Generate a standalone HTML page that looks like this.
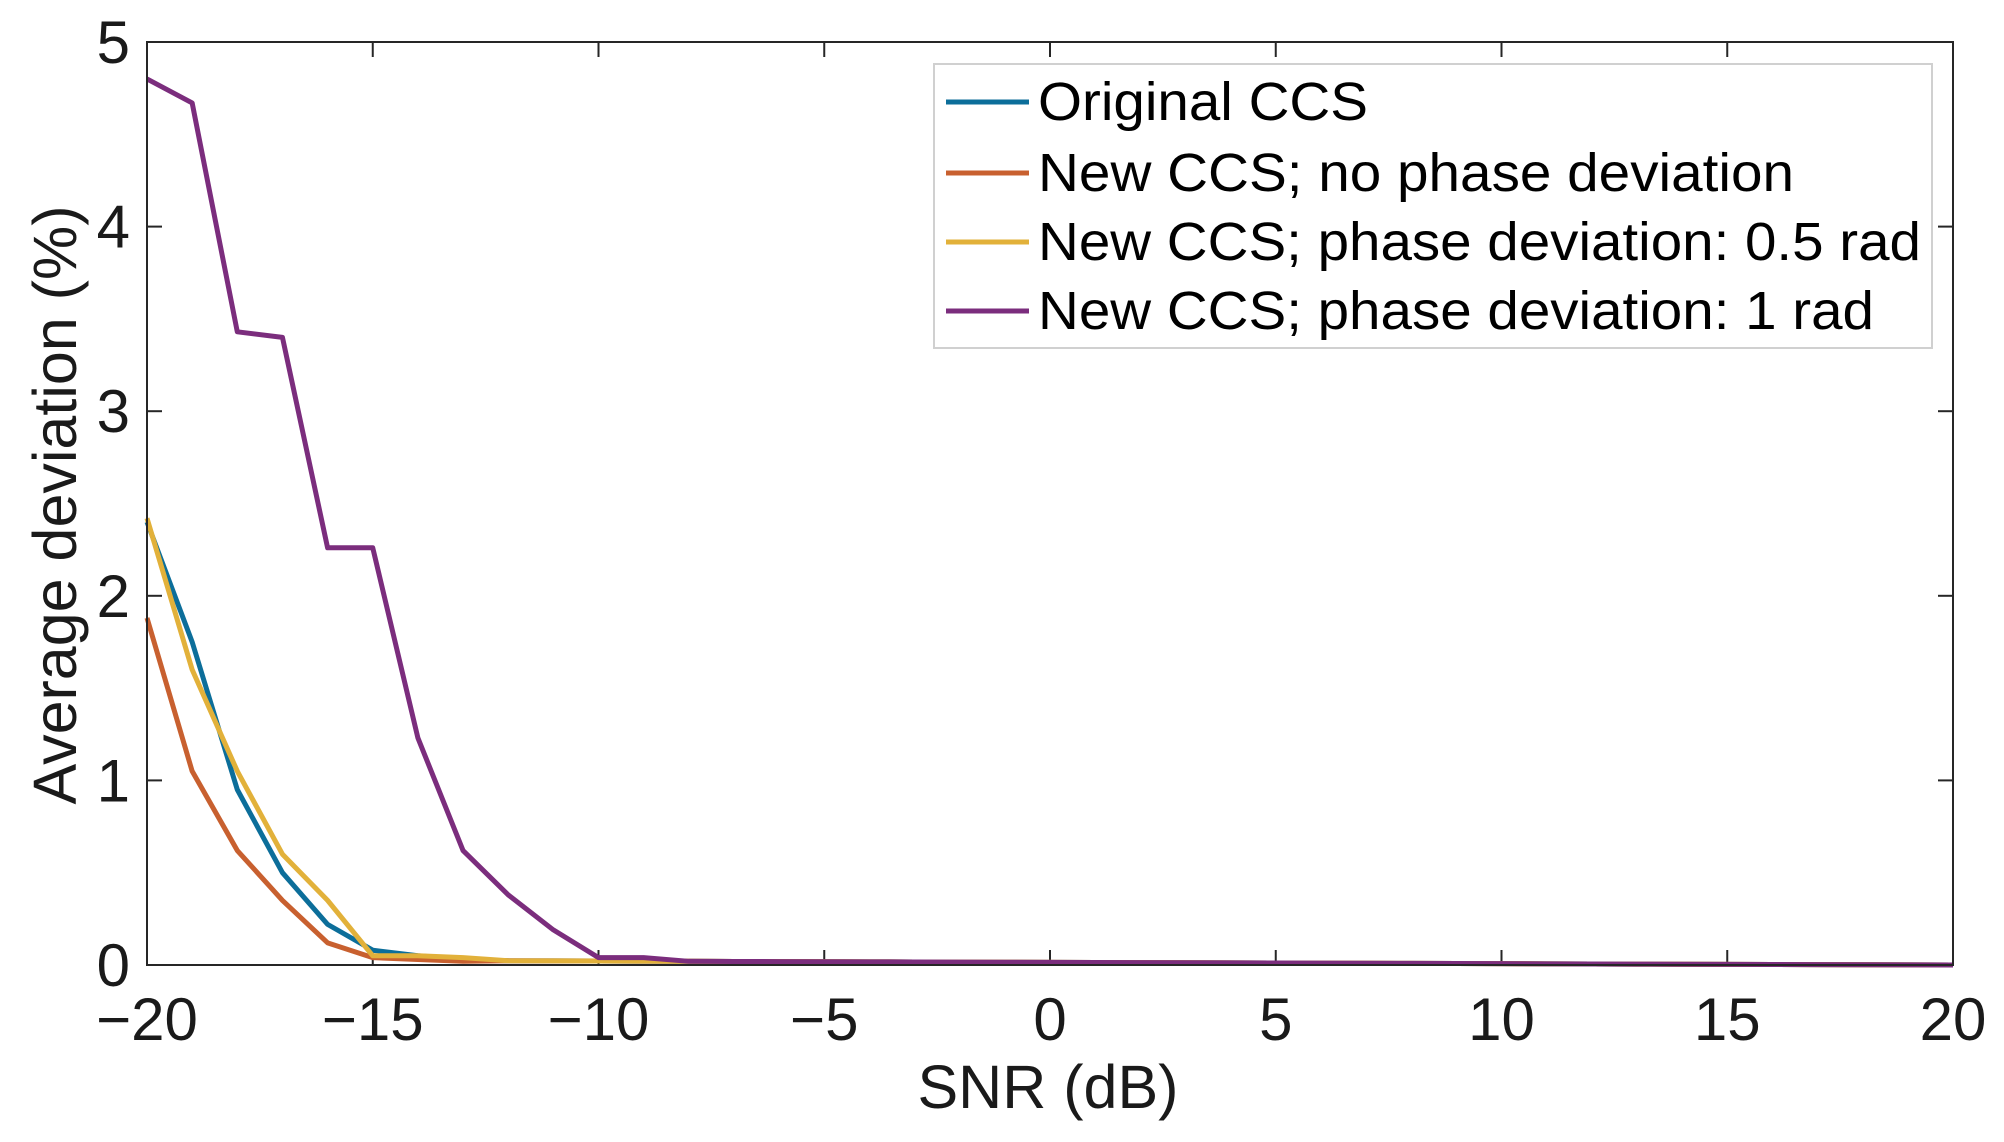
<!DOCTYPE html>
<html><head><meta charset="utf-8"><style>
html,body{margin:0;padding:0;background:#fff;}
svg{display:block;font-family:"Liberation Sans",Arial,sans-serif;}
</style></head><body>
<svg id="s" width="2004" height="1142" viewBox="0 0 2004 1142" xmlns="http://www.w3.org/2000/svg">
<rect width="2004" height="1142" fill="#fff"/>
<g id="ticks" stroke="#262626" stroke-width="2"></g>
<g id="series" fill="none" stroke-width="5" stroke-linejoin="round"></g>
<rect x="147" y="42" width="1806" height="923" fill="none" stroke="#262626" stroke-width="2"/>
<g id="labels" font-size="60" fill="#1a1a1a"></g>
<text x="1048" y="1108" font-size="61" text-anchor="middle" fill="#1a1a1a">SNR (dB)</text>
<text transform="translate(76,505) rotate(-90)" font-size="61" text-anchor="middle" fill="#1a1a1a">Average deviation (%)</text>
<rect x="934" y="64" width="998" height="284" fill="#fff" stroke="#d0d0d0" stroke-width="2"/>
<g font-size="54" fill="#000">
<line x1="946" y1="102" x2="1029" y2="102" stroke="#0C6E9A" stroke-width="5"/>
<text x="1038" y="120" textLength="330" lengthAdjust="spacingAndGlyphs">Original CCS</text>
<line x1="946" y1="173" x2="1029" y2="173" stroke="#C8602F" stroke-width="5"/>
<text x="1038" y="191" textLength="756" lengthAdjust="spacingAndGlyphs">New CCS; no phase deviation</text>
<line x1="946" y1="242" x2="1029" y2="242" stroke="#E2B13A" stroke-width="5"/>
<text x="1038" y="260" textLength="883" lengthAdjust="spacingAndGlyphs">New CCS; phase deviation: 0.5 rad</text>
<line x1="946" y1="311" x2="1029" y2="311" stroke="#7B2D7D" stroke-width="5"/>
<text x="1038" y="329" textLength="836" lengthAdjust="spacingAndGlyphs">New CCS; phase deviation: 1 rad</text>
</g>
</svg>
<script>
var X=function(v){return 147+(v+20)*45.15},Y=function(v){return 965-v*184.6};
var ns="http://www.w3.org/2000/svg";
function el(p,t,a,txt){var e=document.createElementNS(ns,t);for(var k in a)e.setAttribute(k,a[k]);if(txt!==undefined)e.textContent=txt;document.getElementById(p).appendChild(e);}
for(var v=-20;v<=20;v+=5){var x=X(v);el('ticks','line',{x1:x,y1:965,x2:x,y2:950});el('ticks','line',{x1:x,y1:42,x2:x,y2:57});
el('labels','text',{x:x,y:1040,'text-anchor':'middle'},(v<0?'\u2212':'')+Math.abs(v));}
for(var v=0;v<=5;v++){var y=Y(v);el('ticks','line',{x1:147,y1:y,x2:162,y2:y});el('ticks','line',{x1:1953,y1:y,x2:1938,y2:y});
el('labels','text',{x:130,y:y+21,'text-anchor':'end'},''+v);}
function tail(start,arr){var s=arr.slice();for(var v=start+s.length;v<=20;v++)s.push(Math.max(0,0.02*(20-v)/28));return s;}
var data=[
['#0C6E9A',tail(-20,[2.4,1.75,0.95,0.5,0.22,0.08,0.05,0.03])],
['#C8602F',tail(-20,[1.88,1.05,0.62,0.35,0.12,0.04,0.03,0.02])],
['#E2B13A',tail(-20,[2.42,1.6,1.05,0.6,0.35,0.05,0.05,0.04])],
['#7B2D7D',tail(-20,[4.8,4.67,3.43,3.4,2.26,2.26,1.23,0.62,0.38,0.19,0.04,0.04,0.02])]];
data.forEach(function(d){var pts=d[1].map(function(v,i){return X(-20+i)+','+Y(v)}).join(' ');el('series','polyline',{points:pts,stroke:d[0]});});
</script>
</body></html>
